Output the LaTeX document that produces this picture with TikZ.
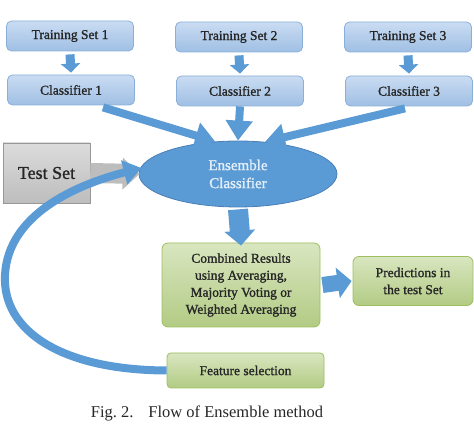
\documentclass[tikz,border=0pt]{standalone}
\usepackage{fontspec}
\setmainfont{Liberation Serif}
\newfontfamily\boxfont{Liberation Serif}[FakeBold=1.2]
\usetikzlibrary{arrows.meta,shapes.geometric}
\definecolor{arrblue}{HTML}{5B9BD5}
\definecolor{bluetop}{HTML}{CADCF2}
\definecolor{bluebot}{HTML}{9FBFE4}
\definecolor{blueedge}{HTML}{8AAFD8}
\definecolor{greentop}{HTML}{D9E6C0}
\definecolor{greenbot}{HTML}{B2CB84}
\definecolor{greenedge}{HTML}{9DBE5E}
\definecolor{graytop}{HTML}{DCDCDC}
\definecolor{graybot}{HTML}{BDBDBD}
\definecolor{ensedge}{HTML}{4A7FB5}
\definecolor{enstext}{HTML}{E2EEF9}
\definecolor{boxtext}{HTML}{262626}
\tikzset{
  bluebox/.style={draw=blueedge, line width=0.8pt, rounded corners=5pt, top color=bluetop, bottom color=bluebot,
    minimum width=127pt, minimum height=30pt, font=\boxfont\fontsize{13.5}{15}\selectfont, text=boxtext},
  greenbox/.style={draw=greenedge, line width=0.8pt, rounded corners=6pt, top color=greentop, bottom color=greenbot,
    align=center, font=\boxfont\fontsize{13.5}{17}\selectfont, text=boxtext},
  smallarr/.style={arrblue, line width=9pt, -{Triangle[width=19pt,length=9pt]}},
  bigarr/.style={arrblue, line width=8pt, -{Triangle[width=26pt,length=20pt]}},
}
\begin{document}
\begin{tikzpicture}[x=1pt,y=-1pt]
\useasboundingbox (0,0) rectangle (474,427);
\node[bluebox] (ts1) at (70,36) {Training Set 1};
\node[bluebox] (c1) at (71,90) {Classifier 1};
\node[bluebox] (ts2) at (239,37) {Training Set 2};
\node[bluebox] (c2) at (240,91) {Classifier 2};
\node[bluebox] (ts3) at (408,37) {Training Set 3};
\node[bluebox] (c3) at (409,91) {Classifier 3};
\node[ellipse, draw=ensedge, line width=0.8pt, fill=arrblue, minimum width=198pt, minimum height=66pt,
  align=center, text=enstext, font=\boxfont\fontsize{15}{18}\selectfont] (ens) at (238,174) {Ensemble\\Classifier};
\node[draw=graybot!80!black, line width=0.5pt, top color=graytop, bottom color=graybot, minimum width=87pt, minimum height=60pt,
  font=\boxfont\fontsize{18}{20}\selectfont, text=boxtext] (test) at (46.5,173) {Test Set};
\node[greenbox, minimum width=158pt, minimum height=84pt] (comb) at (241,285)
  {Combined Results\\using Averaging,\\Majority Voting or\\Weighted Averaging};
\node[greenbox, minimum width=120pt, minimum height=49pt] (pred) at (413,281) {Predictions in\\the test Set};
\node[greenbox, minimum width=157pt, minimum height=35pt, rounded corners=4pt] (fs) at (245.5,370.5) {Feature selection};
\node[font=\fontsize{16.5}{19}\selectfont, text=boxtext] (cap) at (207,413) {Fig.~2.\hspace{0.9em}Flow of Ensemble method};

\draw[smallarr] ([yshift=-3pt]ts1.south) -- ([yshift=2pt]c1.north);
\draw[smallarr] ([yshift=-3pt]ts2.south) -- ([yshift=2pt]c2.north);
\draw[smallarr] ([yshift=-3pt]ts3.south) -- ([yshift=2pt]c3.north);
\draw[bigarr] ([xshift=32pt,yshift=-2pt]c1.south) -- (ens.125);
\draw[bigarr] (c2.south) -- (ens.north);
\draw[bigarr] ([xshift=-4pt,yshift=-2pt]c3.south) -- (ens.50);
\draw[graybot, line width=20pt, -{Triangle[width=31pt,length=17pt]}] (test.east) -- ([xshift=1pt]ens.west);
\draw[arrblue, line width=20pt, -{Triangle[width=30pt,length=15pt]}] ([yshift=-2pt]ens.south) -- ([yshift=-3pt]comb.north);
\draw[arrblue, line width=16pt, -{Triangle[width=30pt,length=14pt]}] ([xshift=2pt]comb.east) -- ([xshift=-1pt]pred.west);
\draw[arrblue, line width=8pt, -{Triangle[width=24pt,length=18pt]}]
  (fs.west) .. controls (60,370) and (2,330) .. (5,275)
  .. controls (8,215) and (75,185) .. ([xshift=3pt,yshift=6pt]ens.west);
\end{tikzpicture}
\end{document}
